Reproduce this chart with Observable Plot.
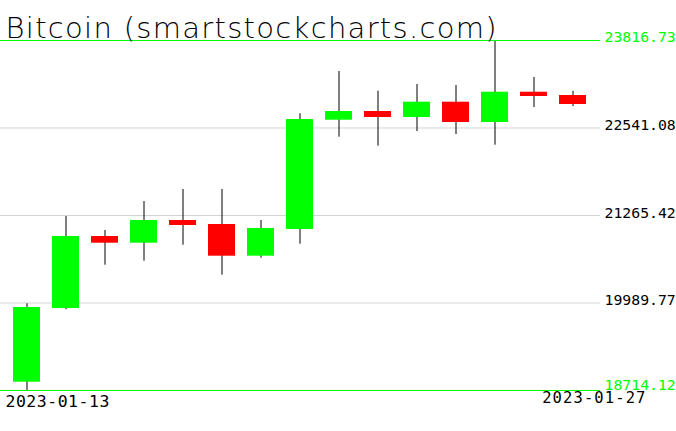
<!DOCTYPE html>
<html>
<head>
<meta charset="utf-8">
<script src="https://cdn.jsdelivr.net/npm/d3@7"></script>
<script src="https://cdn.jsdelivr.net/npm/@observablehq/plot@0.6"></script>
<style>
  html, body { margin: 0; padding: 0; background: #fff; }
</style>
</head>
<body>
<div id="chart"></div>
<script>
const titleText = "Bitcoin (smartstockcharts.com)";
const dates = ["2023-01-13","2023-01-14","2023-01-15","2023-01-16","2023-01-17","2023-01-18","2023-01-19","2023-01-20","2023-01-21","2023-01-22","2023-01-23","2023-01-24","2023-01-25","2023-01-26","2023-01-27"];
const opens  = [18835.1, 19909.5, 20959.2, 20861.5, 21192.5, 21134.2, 20672.0, 21061.3, 22654.7, 22781.6, 22694.1, 22917.2, 22621.2, 23063.0, 23014.9];
const highs  = [19978.0, 21250.8, 21046.7, 21469.5, 21644.4, 21644.4, 21192.5, 22748.1, 23364.7, 23077.5, 23175.2, 23160.7, 23816.73, 23277.3, 23077.5];
const lows   = [18714.12, 19890.6, 20540.8, 20599.1, 20832.4, 20395.0, 20642.8, 20847.0, 22406.9, 22275.7, 22490.0, 22446.3, 22290.3, 22839.9, 22854.5];
const closes = [19924.1, 20959.2, 20861.5, 21192.5, 21119.6, 20672.0, 21075.8, 22665.0, 22781.6, 22694.1, 22917.2, 22621.2, 23063.0, 23000.3, 22883.7];
const yTicks = [18714.12, 19989.77, 21265.42, 22541.08, 23816.73];
const xLabels = ["2023-01-13", "2023-01-27"];

const candles = dates.map((d, i) => ({date: d, open: opens[i], high: highs[i], low: lows[i], close: closes[i]}));
const GREEN = "#00ff00", RED = "#ff0000", GRAY = "#d3d3d3";
const edge = v => v === yTicks[0] || v === yTicks[yTicks.length - 1];
const tickFont = {frameAnchor: "right", textAnchor: "start", lineAnchor: "bottom", dx: 4, fontFamily: "DejaVu Sans Mono", fontSize: 14.8};

const chart = Plot.plot({
  width: 676,
  height: 431,
  marginLeft: 0,
  marginRight: 76,
  marginTop: 40,
  marginBottom: 41,
  style: {background: "#fff", overflow: "visible"},
  x: {type: "band", domain: dates, range: [7, 592], paddingInner: 0.31, paddingOuter: 0.155, axis: null},
  y: {domain: [yTicks[0], yTicks[yTicks.length - 1]], axis: null},
  color: {type: "identity"},
  marks: [
    Plot.ruleY(yTicks.filter(v => !edge(v)), {stroke: GRAY, strokeWidth: 1}),
    Plot.ruleX(candles, {x: "date", y1: "low", y2: "high", stroke: "#000", strokeWidth: 1}),
    Plot.barY(candles, {x: "date", y1: "open", y2: "close", fill: d => d.close >= d.open ? GREEN : RED}),
    Plot.ruleY(yTicks.filter(edge), {stroke: GREEN, strokeWidth: 1}),
    Plot.text(yTicks.filter(v => !edge(v)), {...tickFont, y: d => d, text: d => d.toFixed(2), dy: 2, fill: "#000"}),
    Plot.text([yTicks[yTicks.length - 1]], {...tickFont, y: d => d, text: d => d.toFixed(2), dy: 1, fill: GREEN}),
    Plot.text([yTicks[0]], {...tickFont, y: d => d, text: d => d.toFixed(2), dy: -1, fill: GREEN}),
    Plot.text([xLabels[0]], {text: d => d, frameAnchor: "bottom-left", textAnchor: "start", lineAnchor: "bottom", dx: 5, dy: 16,
      fill: "#000", fontFamily: "DejaVu Sans Mono", fontSize: 16.5}),
    Plot.text([xLabels[1]], {text: d => d, frameAnchor: "bottom-right", textAnchor: "end", lineAnchor: "bottom", dx: 46, dy: 12,
      fill: "#000", fontFamily: "DejaVu Sans Mono", fontSize: 15.5}),
    Plot.text([titleText], {text: d => d, frameAnchor: "top-left", textAnchor: "start", lineAnchor: "bottom", dx: 5, dy: -3,
      fill: "#000", fontFamily: "'DejaVu Sans ExtraLight', 'DejaVu Sans'", fontWeight: 200, fontSize: 29})
  ]
});
const svg = d3.select(chart);
svg.selectAll("text").filter(function() { return this.textContent === titleText; })
  .style("letter-spacing", "1.3px");
svg.selectAll("text").filter(function() { return this.textContent === xLabels[1]; })
  .style("letter-spacing", "1.1px");
svg.selectAll("text").filter(function() { return this.textContent === xLabels[0]; })
  .style("letter-spacing", "0.5px");
document.getElementById("chart").appendChild(chart);
</script>
</body>
</html>
